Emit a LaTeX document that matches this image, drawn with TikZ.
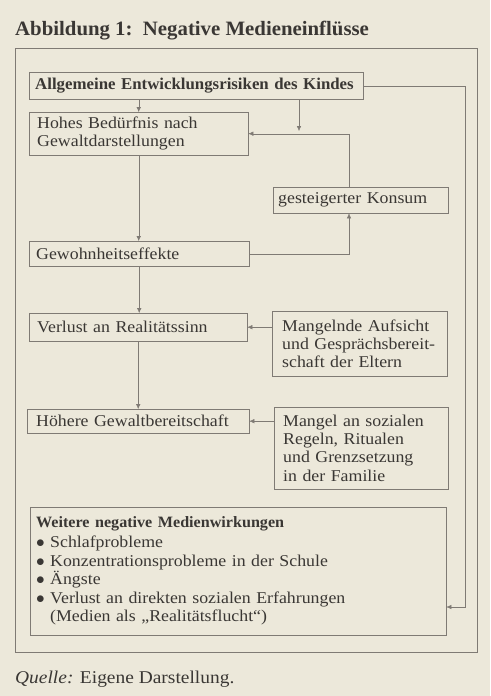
\documentclass[tikz,border=0pt]{standalone}
\usepackage{fontspec}
\setmainfont{Liberation Serif}[FakeStretch=1.08,BoldFeatures={FakeStretch=1.02}]
\usepackage{xcolor}
\usetikzlibrary{arrows.meta,positioning}
\definecolor{paper}{HTML}{ECE8DA}
\definecolor{rule}{HTML}{7F7A74}
\definecolor{ink}{HTML}{3A3734}

\begin{document}
\begin{tikzpicture}[x=1pt,y=-1pt,>={Latex[length=5pt,width=4.5pt]}]
	\tikzstyle{box}=[draw=rule,anchor=north west,align=left,inner xsep=7pt,inner ysep=2pt,text=ink,font=\fontsize{16.5}{18.3}\selectfont]
	\tikzstyle{link}=[draw=rule,->]
	\fill[paper] (0,0) rectangle (490,696);
	\useasboundingbox (0,0) rectangle (490,696);
	\node[anchor=base west,inner sep=0pt,text=ink,font=\fontsize{20.4}{22}\selectfont\bfseries] (title) at (15,35) {Abbildung 1:\ \ Negative Medieneinflüsse};
	\draw[rule] (15,48) rectangle (477,652);
	\node[box,inner xsep=6pt,font=\fontsize{16.5}{18.3}\selectfont\bfseries,text width=322pt,minimum height=27pt] (risk) at (29,72) {Allgemeine Entwicklungsrisiken des Kindes};
	\node[box,inner xsep=8pt,text width=203pt,minimum height=43pt] (need) at (29,112) {Hohes Bedürfnis nach\\Gewaltdarstellungen};
	\node[box,inner xsep=5pt,text width=165pt,minimum height=26pt] (konsum) at (273,187) {gesteigerter Konsum};
	\node[box,text width=206pt,minimum height=25pt] (habit) at (29,241) {Gewohnheitseffekte};
	\node[box,inner xsep=8pt,text width=202pt,minimum height=28pt] (loss) at (29,313) {Verlust an Realitätssinn};
	\node[box,inner xsep=10pt,text width=155pt,minimum height=65pt] (parents) at (272,311) {Mangelnde Aufsicht\\und Gesprächsbereit-\\schaft der Eltern};
	\node[box,inner xsep=9pt,text width=204pt,minimum height=24pt] (violence) at (27,409) {Höhere Gewaltbereitschaft};
	\node[box,inner xsep=9pt,text width=156pt,minimum height=82pt] (family) at (274,407) {Mangel an sozialen\\Regeln, Ritualen\\und Grenzsetzung\\in der Familie};
	\node[box,inner xsep=6pt,text width=404pt,minimum height=128pt,font=\fontsize{16.5}{18.5}\selectfont] (further) at (30,507) {{\fontsize{15.8}{18.5}\selectfont\bfseries Weitere negative Medienwirkungen}\\[1.5pt]
		\makebox[14pt][l]{$\bullet$}Schlafprobleme\\
		\makebox[14pt][l]{$\bullet$}Konzentrationsprobleme in der Schule\\
		\makebox[14pt][l]{$\bullet$}Ängste\\
		\makebox[14pt][l]{$\bullet$}Verlust an direkten sozialen Erfahrungen\\
		\hspace*{14pt}(Medien als „Realitätsflucht“)};
	\node[anchor=base west,inner sep=0pt,text=ink,font=\fontsize{18}{20}\selectfont] (source) at (15,683) {\textit{Quelle:} Eigene Darstellung.};
	\coordinate (loopx) at (349,0);
	\coordinate (join) at (299,131);
	\coordinate (back) at (465,607);
	% main chain
	\draw[link] (risk.south -| need.north) -- (need.north);
	\draw[link] (need.south) -- (habit.north -| need.south);
	\draw[link] (habit.south) -- (loss.north -| habit.south);
	\draw[link] (loss.south) -- (violence.north -| loss.south);
	% feedback loop
	\draw[link] (risk.south -| join) -- (join);
	\draw[link] (habit.east) -| (konsum.south -| loopx);
	\draw[link] (konsum.north -| loopx) |- (need.east);
	% side influences
	\draw[link] (parents.west |- loss.east) -- (loss.east);
	\draw[link] (family.west |- violence.east) -- (violence.east);
	\draw[link] (risk.east) -| (back) -- (further.east |- back);
\end{tikzpicture}
\end{document}
